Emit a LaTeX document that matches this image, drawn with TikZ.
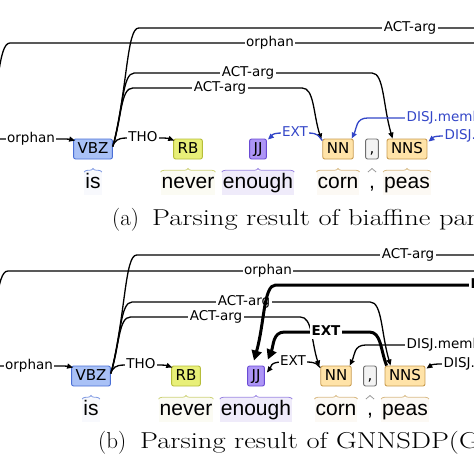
\documentclass[tikz,border=0pt]{standalone}
\usepackage{fontspec}
\newfontfamily\lblfont{DejaVu Sans}
\newfontfamily\wordfont{Liberation Sans}
\usetikzlibrary{arrows.meta, calc, decorations.pathreplacing}
\definecolor{vbz}{HTML}{4A6FD6}
\definecolor{vbzF}{HTML}{A9C1F6}
\definecolor{rb}{HTML}{B6BD3A}
\definecolor{rbF}{HTML}{E8EF78}
\definecolor{jj}{HTML}{6A4BD4}
\definecolor{jjF}{HTML}{AD95F6}
\definecolor{nn}{HTML}{C89B4E}
\definecolor{nnF}{HTML}{FFE3A8}
\definecolor{pu}{HTML}{6E6E6E}
\definecolor{puF}{HTML}{F3F3F3}
\definecolor{disj}{HTML}{3346C8}

% one dependency arc: [style]{left end}{right end}{height}{label style}{label x}{label}
\newcommand{\brarc}[7][]{%
  \draw[dep,#1] let \p1=(#2), \p2=(#3), \n1={-#4pt-(\y1)}, \n2={-#4pt-(\y2)} in
    (\p1) .. controls (\x1+0.1*\n1+3pt, \y1+0.5*\n1) and (\x1+0.1*\n1+2pt, -#4pt) .. (\x1+0.1*\n1+14pt, -#4pt)
    -- (\x2-0.1*\n2-14pt, -#4pt) .. controls (\x2-0.1*\n2-2pt, -#4pt) and (\x2-0.1*\n2-3pt, \y2+0.5*\n2) .. (\p2);
  \node[lbl,#5] at (#6,#4) {#7};}

% tags, braces and words of one sentence: {suffix}{dx}{dy}
\newcommand{\tokrow}[3]{%
  \foreach \n/\x/\w/\t/\s/\b in {is/93/is/VBZ/vbz/4, never/188/never/RB/rb/6, enough/258/enough/JJ/jj/11,
                                 corn/338/corn/NN/nn/6, comma/372/{,}/{,}/pu/0, peas/407/peas/NNS/nn/6}{
    \node[wd, fill=\s!\b] (w\n#1) at (\x+#2, 183+#3) {\w};
    \node[tag=\s] (t\n#1) at (\x+#2, 149+#3) {\t};
    \draw[\s!70, line width=0.8pt, decorate, decoration={brace, amplitude=3.5pt}]
      ($(w\n#1.north west)+(0,1)$) -- ($(w\n#1.north east)+(0,1)$);
  }}

\begin{document}
\begin{tikzpicture}[x=1pt, y=-1pt, >={Triangle[length=6pt,width=5pt]},
    dep/.style={line width=1.3pt},
    heavy/.style={line width=3pt, >={Triangle[length=10pt,width=10pt]}},
    lbl/.style={fill=white, inner xsep=1.5pt, inner ysep=0.5pt, text height=10pt, text depth=2.5pt,
                font=\lblfont\fontsize{13.5}{14}\selectfont},
    tag/.style={draw=#1, fill=#1F, line width=0.9pt, rounded corners=2pt, inner xsep=4pt, inner ysep=3pt,
                text height=11pt, text depth=3pt, font=\lblfont\fontsize{15}{16}\selectfont},
    wd/.style={inner xsep=1pt, inner ysep=2pt, text height=15pt, text depth=4.5pt,
               font=\wordfont\fontsize{21}{22}\selectfont},
    captext/.style={inner sep=0pt, font=\fontsize{23}{26}\selectfont}]
  \useasboundingbox (0,0) rectangle (474,474);
  \clip (0,0) rectangle (474,474);

  % (a) biaffine
  \tokrow{a}{0}{0}
  \coordinate (la1) at (-40,149); \coordinate (la2) at (-14,143);
  \coordinate (ra1) at (520,140); \coordinate (ra2) at (520,140);
  \coordinate (ra3) at (530,140); \coordinate (ra4) at (530,150);
  \brarc{la2}{ra1}{43}{}{270}{orphan}
  \brarc{$(tisa.north east)+(0,8)$}{ra2}{28}{}{410}{ACT-arg}
  \brarc[->]{$(tisa.north east)+(0,8)$}{$(tpeasa.north west)+(6,0)$}{73}{}{248}{ACT-arg}
  \brarc[->]{$(tisa.north east)+(0,8)$}{$(tcorna.north west)+(-1,1)$}{88}{}{220}{ACT-arg}
  \brarc[->]{la1}{$(tisa.north west)+(2,2)$}{139}{}{31}{orphan}
  \brarc[->]{$(tisa.north east)+(0,6)$}{$(tnevera.north west)+(1,2)$}{138}{}{143}{THO}
  \brarc[<-,disj]{$(tenougha.north east)+(1,1)$}{$(tcorna.north west)+(0,2)$}{133}{text=disj}{295}{EXT}
  \brarc[<-,disj]{$(tcorna.north east)+(-2,0)$}{ra3}{118}{text=disj,anchor=west}{405}{DISJ.member}
  \brarc[<-,disj]{$(tpeasa.north east)+(1,3)$}{ra4}{136}{text=disj,anchor=west}{443}{DISJ.member}
  \node[captext, anchor=base west] (capa) at (112,225) {(a)};
  \node[captext, anchor=base west] (capta) at (152,225) {\scalebox{1.24}[1]{Parsing result of biaffine parser}};

  % (b) GNNSDP
  \tokrow{b}{-2}{227}
  \coordinate (lb1) at (-42,376); \coordinate (lb2) at (-16,370);
  \coordinate (rb1) at (520,367); \coordinate (rb2) at (520,367);
  \coordinate (rb3) at (530,367); \coordinate (rb4) at (530,377);
  \coordinate (rb5) at (540,367);
  \brarc{lb2}{rb1}{271}{}{268}{orphan}
  \brarc{$(tisb.north east)+(0,8)$}{rb2}{255}{}{408}{ACT-arg}
  \brarc[->]{$(tisb.north east)+(0,8)$}{$(tpeasb.north west)+(6,0)$}{302}{}{244}{ACT-arg}
  \brarc[->]{$(tisb.north east)+(0,8)$}{$(tcornb.north west)+(-1,1)$}{317}{}{216}{ACT-arg}
  \brarc[->]{lb1}{$(tisb.north west)+(2,2)$}{366}{}{29}{orphan}
  \brarc[->]{$(tisb.north east)+(0,6)$}{$(tneverb.north west)+(1,2)$}{365}{}{141}{THO}
  \brarc[<-]{$(tenoughb.north east)+(2,7)$}{$(tcornb.north west)+(0,2)$}{362}{}{293}{EXT}
  \brarc[<-]{$(tcornb.north east)+(-2,0)$}{rb3}{345}{anchor=west}{405}{DISJ.member}
  \brarc[<-]{$(tpeasb.north east)+(1,3)$}{rb4}{364}{anchor=west}{442}{DISJ.member}
  \brarc[<-,heavy]{$(tenoughb.north)+(-2,-5)$}{rb5}{285}{anchor=west,font=\lblfont\bfseries\fontsize{13.5}{14}\selectfont}{469}{EXT}
  \brarc[<-,heavy]{$(tenoughb.north east)+(3,-6)$}{$(tpeasb.north west)+(2,0)$}{332}{font=\lblfont\bfseries\fontsize{13.5}{14}\selectfont}{326}{EXT}
  \node[captext, anchor=base west] (capb) at (98,448) {(b)};
  \node[captext, anchor=base west] (captb) at (140,448) {\scalebox{1.24}[1]{Parsing result of GNNSDP(GAT)}};
\end{tikzpicture}
\end{document}
